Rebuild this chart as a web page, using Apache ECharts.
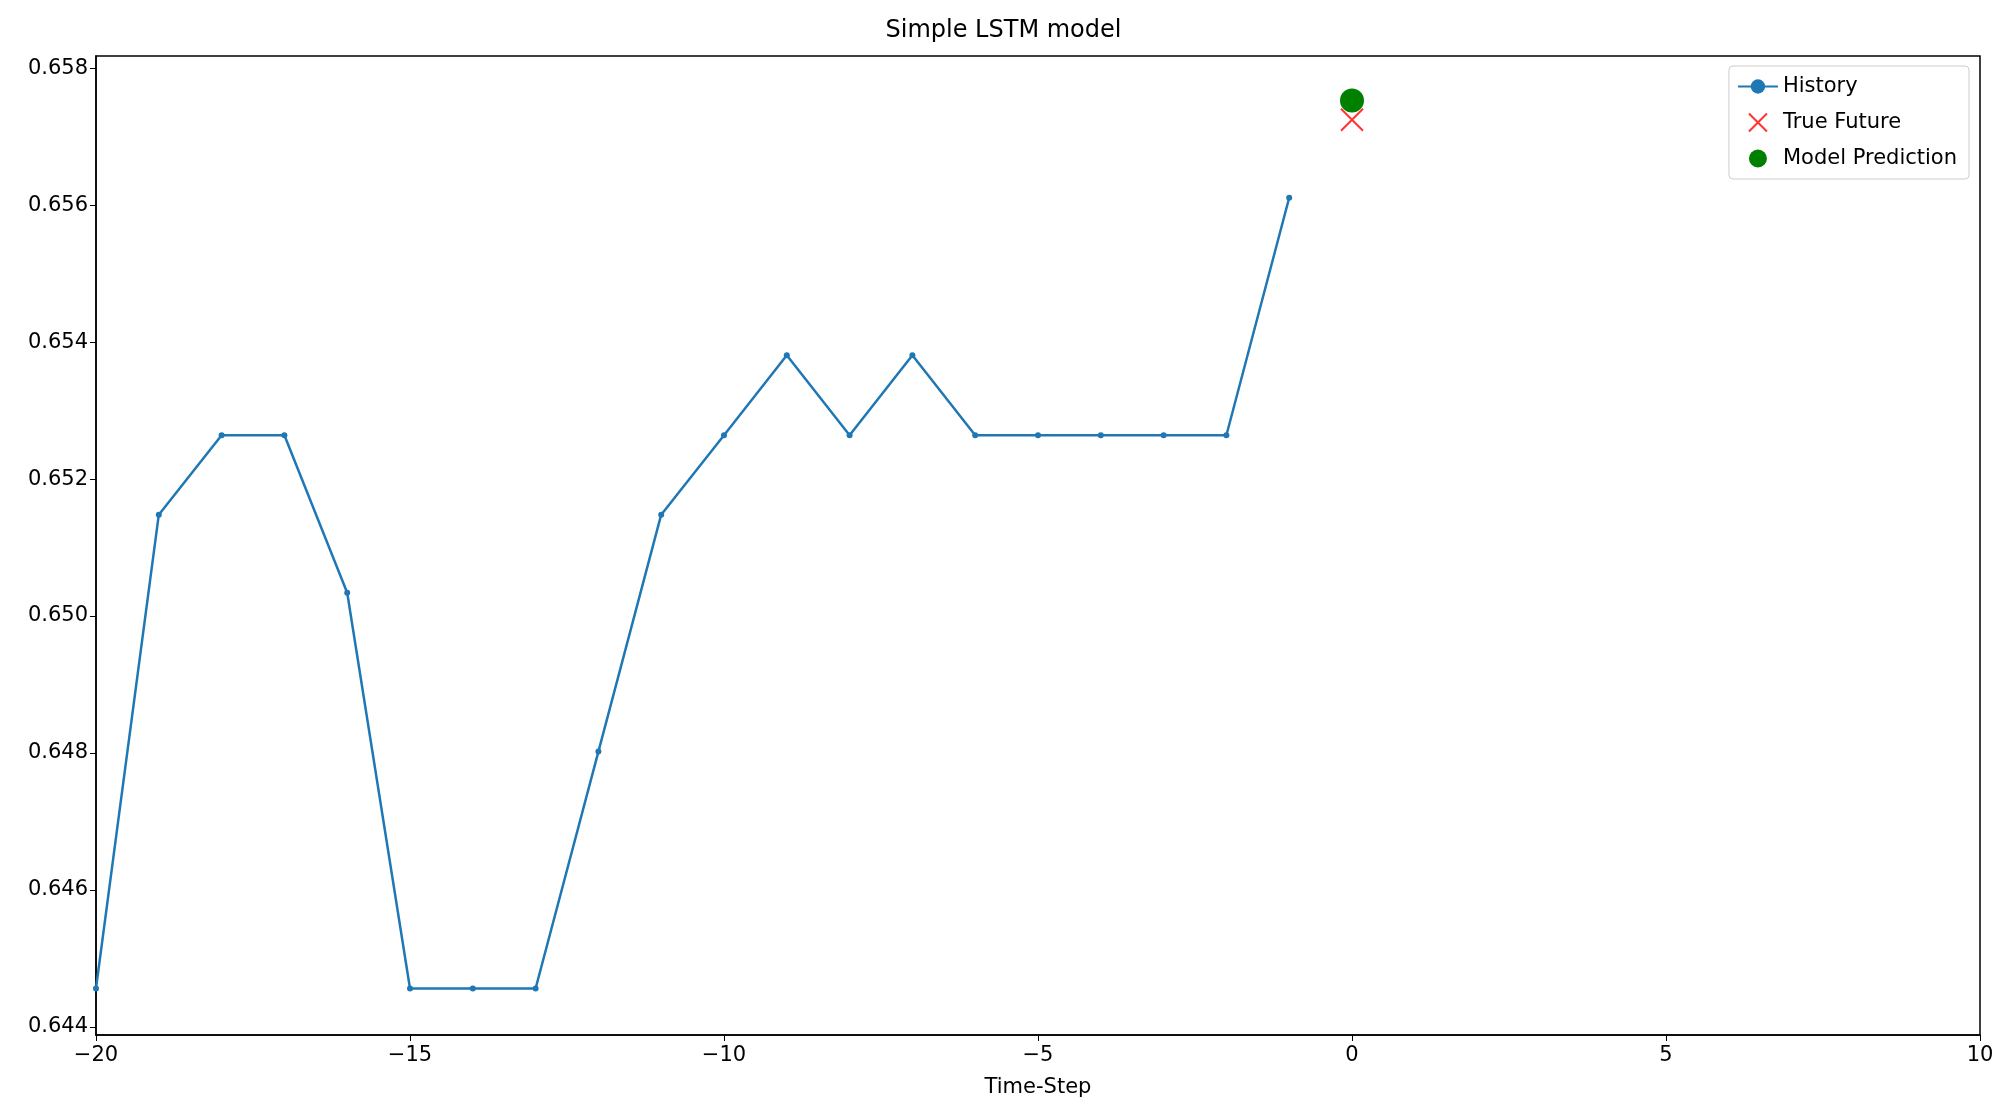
<!DOCTYPE html>
<html><head><meta charset="utf-8">
<script src="https://cdn.jsdelivr.net/npm/echarts@6/dist/echarts.min.js"></script>
<style>html,body{margin:0;background:#fff}#c{width:2007px;height:1117px}</style>
</head><body><div id="c"></div>
<script>
const historyX = [-20,-19,-18,-17,-16,-15,-14,-13,-12,-11,-10,-9,-8,-7,-6,-5,-4,-3,-2,-1];
const historyY = [0.64456,0.65148,0.65264,0.65264,0.65034,0.64456,0.64456,0.64456,0.64802,0.65148,0.65264,0.65381,0.65264,0.65381,0.65264,0.65264,0.65264,0.65264,0.65264,0.65611];
const trueFuture = [[0,0.65725]];
const prediction = [[0,0.65753]];
const yTicks = [0.644,0.646,0.648,0.650,0.652,0.654,0.656,0.658];
const F = 'DejaVu Sans';
const chart = echarts.init(document.getElementById('c'));
chart.setOption({
  animation:false,
  title:{text:'Simple LSTM model',left:'center',top:14,textStyle:{fontFamily:F,fontSize:24,fontWeight:'normal',color:'#000'}},
  grid:{left:96,right:27,top:56,bottom:82,show:true,borderColor:'#000',borderWidth:1.5,backgroundColor:'transparent'},
  legend:{right:38,top:66,orient:'vertical',itemGap:14,itemWidth:40,itemHeight:18,
    borderColor:'#ccc',borderWidth:1,borderRadius:4,padding:[10,12,10,8],
    textStyle:{fontFamily:F,fontSize:21,color:'#000'},
    data:['History','True Future','Model Prediction']},
  xAxis:{type:'value',min:-20,max:10,interval:5,name:'Time-Step',nameLocation:'middle',nameGap:42,
    nameTextStyle:{fontFamily:F,fontSize:21,color:'#000'},
    axisLine:{lineStyle:{color:'#000',width:1.5}},axisTick:{lineStyle:{color:'#000'},length:6},
    axisLabel:{fontFamily:F,fontSize:21,color:'#000',margin:10,formatter:v=>String(v).replace('-','\u2212')},
    splitLine:{show:false}},
  yAxis:{type:'value',min:0.64388,max:0.65818,
    axisLine:{show:true,onZero:false,lineStyle:{color:'#000',width:1.5}},
    axisTick:{show:true,customValues:yTicks,lineStyle:{color:'#000'},length:6},
    axisLabel:{customValues:yTicks,fontFamily:F,fontSize:21,color:'#000',formatter:v=>v.toFixed(3)},
    splitLine:{show:false}},
  series:[
    {name:'History',type:'line',data:historyX.map((x,i)=>[x,historyY[i]]),
     symbol:'circle',symbolSize:6,showAllSymbol:true,lineStyle:{color:'#1f77b4',width:2.5},itemStyle:{color:'#1f77b4'}},
    {name:'True Future',type:'scatter',data:trueFuture,symbol:'path://M0,0L10,10M10,0L0,10',symbolSize:22,
     itemStyle:{color:'none',borderColor:'#ff0000',borderWidth:2}},
    {name:'Model Prediction',type:'scatter',data:prediction,symbol:'circle',symbolSize:24,itemStyle:{color:'#008000',opacity:1}}
  ]
});
</script></body></html>
